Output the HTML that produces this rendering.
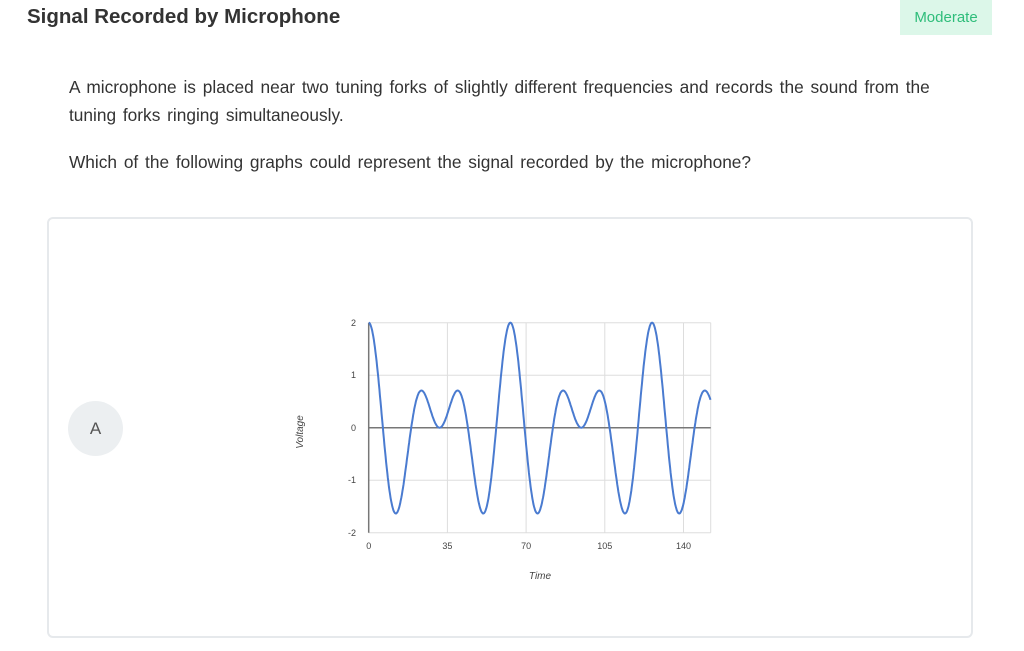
<!DOCTYPE html>
<html><head><meta charset="utf-8"><style>
body{margin:0;width:1024px;height:651px;background:#fff;font-family:"Liberation Sans",sans-serif;position:relative;overflow:hidden}
.t{position:absolute;left:27px;top:5px;font-size:20.5px;font-weight:bold;color:#333}
.badge{position:absolute;left:900px;top:0;width:92px;height:35px;background:#dcf7e9;color:#2ebd7a;font-size:15px;line-height:35px;text-align:center}
.p{position:absolute;left:69px;font-size:17.3px;color:#333;line-height:28px;word-spacing:2px}
.card{position:absolute;left:47px;top:217px;width:926px;height:421px;border:2px solid #e6e9ec;border-radius:6px;box-sizing:border-box}
.a{position:absolute;left:68px;top:401px;width:55px;height:55px;border-radius:50%;background:#eceff1;color:#555;font-size:17px;line-height:55px;text-align:center}
</style></head><body>
<div class="t">Signal Recorded by Microphone</div>
<div class="badge">Moderate</div>
<div class="p" style="top:73px;width:900px">A microphone is placed near two tuning forks of slightly different frequencies and records the sound from the tuning forks ringing simultaneously.</div>
<div class="p" style="top:148px">Which of the following graphs could represent the signal recorded by the microphone?</div>
<div class="card"></div>
<div class="a">A</div>
<svg width="1024" height="651" style="position:absolute;left:0;top:0" font-family="Liberation Sans,sans-serif" font-size="9" fill="#444">
<g stroke="#ddd" stroke-width="1">
<line x1="368.7" x2="710.7" y1="322.7" y2="322.7"/><line x1="368.7" x2="710.7" y1="375.2" y2="375.2"/>
<line x1="368.7" x2="710.7" y1="480.2" y2="480.2"/><line x1="368.7" x2="710.7" y1="532.7" y2="532.7"/>
<line x1="447.4" x2="447.4" y1="322.7" y2="532.7"/><line x1="526.1" x2="526.1" y1="322.7" y2="532.7"/>
<line x1="604.8" x2="604.8" y1="322.7" y2="532.7"/><line x1="683.5" x2="683.5" y1="322.7" y2="532.7"/>
<line x1="710.7" x2="710.7" y1="322.7" y2="532.7"/>
</g>
<line x1="368.7" x2="710.7" y1="427.7" y2="427.7" stroke="#777" stroke-width="1.5"/>
<line x1="368.7" x2="368.7" y1="322.7" y2="532.7" stroke="#777" stroke-width="1.5"/>
<g text-anchor="end"><text x="356" y="326">2</text><text x="356" y="378">1</text><text x="356" y="431">0</text><text x="356" y="483">-1</text><text x="356" y="536">-2</text></g>
<g text-anchor="middle"><text x="368.7" y="549">0</text><text x="447.4" y="549">35</text><text x="526.1" y="549">70</text><text x="604.8" y="549">105</text><text x="683.5" y="549">140</text>
<text x="540" y="579" font-style="italic" font-size="10">Time</text>
<text transform="translate(303,432) rotate(-90)" font-style="italic" font-size="10">Voltage</text></g>
<polyline id="w" fill="none" stroke="#4a7bd0" stroke-width="2"/>
</svg>
<script>
var pts=[];for(var t=0;t<=152;t+=0.25){var v=Math.cos(2*Math.PI*2*t/63)+Math.cos(2*Math.PI*3*t/63);pts.push((368.7+t*2.249).toFixed(1)+","+(427.7-v*52.5).toFixed(1));}
document.getElementById("w").setAttribute("points",pts.join(" "));
</script>
</body></html>
